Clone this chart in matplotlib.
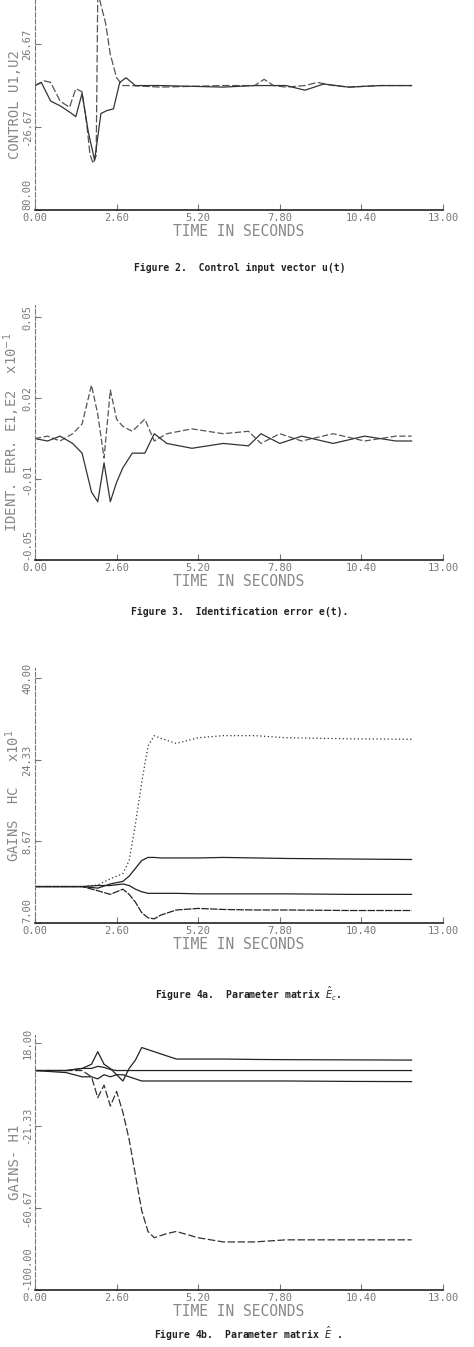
import matplotlib
matplotlib.use("Agg")
import matplotlib.pyplot as plt

W, H = 474, 1347
fig = plt.figure(figsize=(W/100, H/100), dpi=100)

xticks = [0, 2.6, 5.2, 7.8, 10.4, 13.0]
xticklabels = ["0.00", "2.60", "5.20", "7.80", "10.40", "13.00"]

# Figure 2 data
t2a = [0, 0.3, 0.5, 0.8, 1.1, 1.3, 1.5, 1.65, 1.75, 1.85, 1.95, 2.0, 2.1, 2.25, 2.4, 2.6, 2.8, 3.0, 4, 6, 7, 7.3, 7.6, 8, 8.6, 9, 9.5, 10, 11, 12]
u1 = [0, 3, 2, -10, -14, -2, -4, -25, -44, -50, -45, 60, 52, 40, 20, 5, 0, 0, -1, 0, 0, 4, 0, -1, 0, 2, 0, -1, 0, 0]
t2b = [0, 0.2, 0.5, 0.8, 1.1, 1.3, 1.5, 1.7, 1.9, 2.1, 2.3, 2.5, 2.7, 2.9, 3.2, 4, 6, 7, 8, 8.6, 9.2, 10, 11, 12]
u2 = [0, 2, -10, -13, -17, -20, -5, -30, -48, -18, -16, -15, 2, 5, 0, 0, -1, 0, 0, -3, 1, -1, 0, 0]

# Figure 3 data
t3 = [0, 0.4, 0.8, 1.2, 1.5, 1.8, 2.0, 2.2, 2.4, 2.6, 2.8, 3.1, 3.5, 3.8, 4.2, 5, 6, 6.8, 7.2, 7.8, 8.5, 9.5, 10.5, 11.5, 12]
e1 = [0, 0.001, -0.001, 0.002, 0.006, 0.022, 0.010, -0.008, 0.020, 0.008, 0.005, 0.003, 0.008, -0.001, 0.002, 0.004, 0.002, 0.003, -0.002, 0.002, -0.001, 0.002, -0.001, 0.001, 0.001]
e2 = [0, -0.001, 0.001, -0.002, -0.006, -0.022, -0.026, -0.010, -0.026, -0.018, -0.012, -0.006, -0.006, 0.002, -0.002, -0.004, -0.002, -0.003, 0.002, -0.002, 0.001, -0.002, 0.001, -0.001, -0.001]

# Figure 4a data
t4 = [0, 1.5, 2.0, 2.4, 2.8, 3.0, 3.2, 3.4, 3.6, 3.8, 4.0, 4.5, 5.2, 6, 7, 8, 10, 12]
g1 = [0, 0, 0.3, 1.5, 2.5, 5, 12, 20, 27, 29, 28.5, 27.5, 28.6, 29, 29, 28.6, 28.4, 28.3]
g2 = [0, 0, -0.3, 0.5, 1, 2, 3.5, 5, 5.6, 5.6, 5.5, 5.5, 5.5, 5.6, 5.5, 5.4, 5.3, 5.2]
g3 = [0, 0, 0.2, 0.2, 0.5, 0.2, -0.5, -1.0, -1.3, -1.3, -1.3, -1.3, -1.4, -1.4, -1.4, -1.4, -1.5, -1.5]
g4 = [0, 0, -0.8, -1.5, -0.5, -1.5, -3, -5, -6, -6.2, -5.5, -4.5, -4.2, -4.4, -4.5, -4.5, -4.6, -4.6]

# Figure 4b data
t5 = [0, 1.0, 1.5, 1.8, 2.0, 2.2, 2.4, 2.6, 2.8, 3.0, 3.2, 3.4, 3.6, 3.8, 4.2, 4.5, 5.2, 6, 7, 8, 10, 12]
h1 = [5, 5, 5, 2, -8, -2, -12, -5, -15, -28, -45, -62, -72, -75, -73, -72, -75, -77, -77, -76, -76, -76]
h2 = [5, 5, 6, 8, 14, 8, 6, 3, 0, 6, 10, 16, 15, 14, 12, 10.5, 10.5, 10.5, 10.3, 10.2, 10.1, 10]
h3 = [5, 5, 6, 6, 7, 6.5, 5.5, 5, 5, 5, 5, 5, 5, 5, 5, 5, 5, 5, 5, 5, 5, 5]
h4 = [5, 4, 2, 2, 1, 3, 2, 3, 3, 2, 1, 0, 0, 0, 0, 0, 0, 0, 0, 0, -0.2, -0.3]

gray = "#555555"
tick_font = dict(family="DejaVu Sans Mono", size=7.5, color="#888888")

def make_axes(bottom_px, top_px, ylim, yticks, yticklabels, ylabel):
    left = 35 / W
    width = (443 - 35) / W
    ax = fig.add_axes([left, 1 - bottom_px / H, width, (bottom_px - top_px) / H])
    ax.set_xlim(0, 13)
    ax.set_ylim(*ylim)
    for s in ["top", "right"]:
        ax.spines[s].set_visible(False)
    ax.spines["left"].set_color("#777777")
    ax.spines["left"].set_linestyle((0, (4, 2)))
    ax.spines["bottom"].set_color("#222222")
    ax.spines["bottom"].set_linewidth(1.2)
    ax.set_xticks(xticks)
    ax.set_xticklabels(xticklabels, **tick_font)
    ax.set_yticks(yticks)
    labs = ax.set_yticklabels(yticklabels, rotation=90, va="center", **tick_font)
    labs[0].set_va("bottom")
    ax.tick_params(direction="in", length=4, colors="#777777", pad=2)
    ax.set_xlabel("TIME IN SECONDS", family="DejaVu Sans Mono", size=10.5, color="#888888", labelpad=1)
    ax.set_ylabel(ylabel, family="DejaVu Sans Mono", size=10, color="#888888", labelpad=0)
    return ax

lw = 0.9
ax1 = make_axes(210, 0, (-80, 55), [-80, -26.67, 26.67], ["80.00", "-26.67", "26.67"], "CONTROL U1,U2")
ax1.plot(t2a, u1, color=gray, lw=lw, ls=(0, (6, 2)))
ax1.plot(t2b, u2, color="#333333", lw=lw)

ax2 = make_axes(560, 305, (-0.05, 0.055), [-0.05, -0.0167, 0.0167, 0.05], ["-0.05", "-0.01", "0.02", "0.05"], "IDENT. ERR. E1,E2  x10$^{-1}$")
ax2.plot(t3, e1, color=gray, lw=lw, ls=(0, (5, 2)))
ax2.plot(t3, e2, color="#333333", lw=lw)

ax3 = make_axes(923, 668, (-7, 42), [-7, 8.67, 24.33, 40], ["7.00", "8.67", "24.33", "40.00"], "GAINS  HC   x10$^{1}$")
ax3.plot(t4, g1, color="#333333", lw=lw, ls=(0, (1, 2)))
ax3.plot(t4, g2, color="#222222", lw=lw)
ax3.plot(t4, g3, color="#222222", lw=lw)
ax3.plot(t4, g4, color="#222222", lw=lw, ls=(0, (6, 1)))

ax4 = make_axes(1290, 1035, (-100, 22), [-100, -60.67, -21.33, 18], ["-100.00", "-60.67", "-21.33", "18.00"], "GAINS- H1")
ax4.plot(t5, h1, color="#333333", lw=lw, ls=(0, (6, 2)))
ax4.plot(t5, h2, color="#222222", lw=lw)
ax4.plot(t5, h3, color="#222222", lw=lw)
ax4.plot(t5, h4, color="#222222", lw=lw)

cap = dict(family="DejaVu Sans Mono", size=7, weight="bold", color="#222222", ha="center", va="center")
fig.text(240 / W, 1 - 268 / H, "Figure 2.  Control input vector u(t)", **cap)
fig.text(240 / W, 1 - 612 / H, "Figure 3.  Identification error e(t).", **cap)
fig.text(248 / W, 1 - 994 / H, "Figure 4a.  Parameter matrix $\\hat{E}_c$.", **cap)
fig.text(248 / W, 1 - 1334 / H, "Figure 4b.  Parameter matrix $\\hat{E}$ .", **cap)

fig.savefig("out.png", dpi=100, facecolor="white")
